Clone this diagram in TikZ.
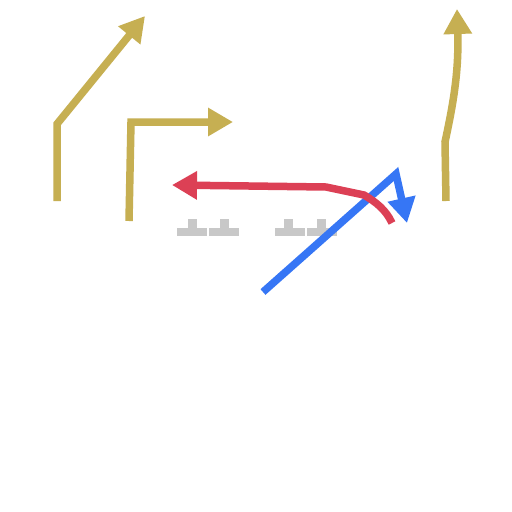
\documentclass[tikz,border=0pt]{standalone}
\usetikzlibrary{arrows.meta}
\definecolor{gold}{HTML}{C6AF52}
\definecolor{redr}{HTML}{DC4055}
\definecolor{bluer}{HTML}{3676F5}
\definecolor{grayb}{HTML}{C8C8C8}
\tikzset{
  route/.style={line width=7.5pt, line join=miter},
  tipA/.style={-{Triangle[length=25pt,width=27pt]}},
  blockpart/.style={fill=grayb, draw=none}
}
\begin{document}
\begin{tikzpicture}[x=1pt,y=-1pt]
\useasboundingbox (0,0) rectangle (512,512);
\fill[white] (0,0) rectangle (512,512);
% gray blocks
\foreach \bx/\nx in {177/188, 209/220, 275/284, 307/317}{
  \fill[grayb] (\bx,228) rectangle ++(30,8);
  \fill[grayb] (\nx,219) rectangle ++(9,9);
}
% gold routes
\coordinate (g1a) at (57,201); \coordinate (g1b) at (57,124); \coordinate (g1c) at (145,16);
\draw[route, gold, tipA] (g1a) -- (g1b) -- (g1c);
\coordinate (g2a) at (129,221); \coordinate (g2b) at (131,122); \coordinate (g2c) at (233,122);
\draw[route, gold, tipA] (g2a) -- (g2b) -- (g2c);
\coordinate (g3a) at (446,201); \coordinate (g3b) at (445,142); \coordinate (g3c) at (457,9);
\draw[route, gold, tipA] (g3a) -- (g3b) .. controls (453,105) and (459,72) .. (g3c);
% blue route
\coordinate (b1) at (263,292); \coordinate (b2) at (396,174); \coordinate (b3) at (407,223);
\draw[route, bluer, tipA] (b1) -- (b2) -- (b3);
% red route
\coordinate (r1) at (392,223); \coordinate (r2) at (364,195); \coordinate (r3) at (326,187); \coordinate (r4) at (172,185);
\draw[route, redr, tipA] (r1) .. controls (386,210) and (376,202) .. (r2) -- (r3) -- (r4);
\end{tikzpicture}
\end{document}
